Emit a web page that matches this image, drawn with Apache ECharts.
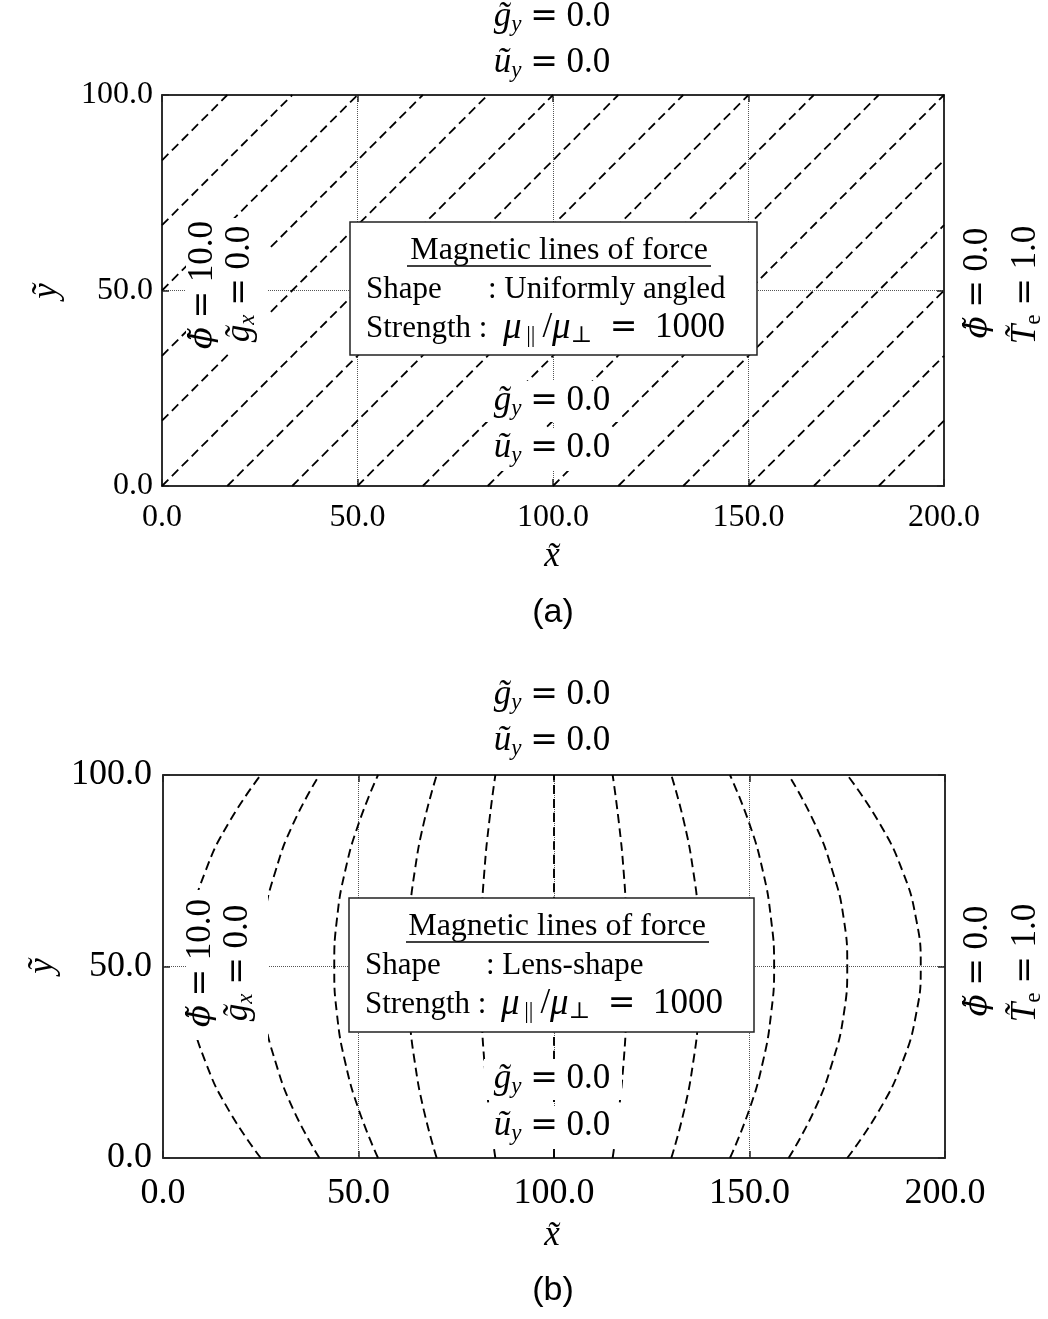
<!DOCTYPE html>
<html><head><meta charset="utf-8">
<script src="https://cdn.jsdelivr.net/npm/echarts@6/dist/echarts.min.js"></script>
<style>html,body{margin:0;padding:0;background:#fff}#c{width:1048px;height:1319px}</style>
</head><body><div id="c"></div>
<script>
// ---- data ----
const xTicks = [0, 50, 100, 150, 200];
const yTicks = [0, 50, 100];
// panel (a): uniformly angled lines, start (bottom/left edge) and end (top/right edge)
const angledStart = [[0,83.3],[0,66.7],[0,50],[0,33.3],[0,16.7],[0,0],[16.7,0],[33.3,0],[50,0],[66.7,0],[83.3,0],[100,0],[116.7,0],[133.3,0],[150,0],[166.7,0],[183.3,0]];
const angledEnd   = [[16.7,100],[33.3,100],[50,100],[66.7,100],[83.3,100],[100,100],[116.7,100],[133.3,100],[150,100],[166.7,100],[183.3,100],[200,100],[200,83.3],[200,66.7],[200,50],[200,33.3],[200,16.7]];
// panel (b): lens-shaped lines, x read at fixed y levels
const lensY = [0, 12.5, 25, 37.5, 50, 62.5, 75, 87.5, 100];
const lensX = [
  [25.0, 16.8, 10.9, 7.4, 6.3, 7.4, 10.9, 16.8, 25.0],
  [40.0, 33.4, 28.8, 25.9, 25.0, 25.9, 28.8, 33.4, 40.0],
  [55.0, 50.1, 46.6, 44.5, 43.8, 44.5, 46.6, 50.1, 55.0],
  [70.0, 66.7, 64.4, 63.0, 62.5, 63.0, 64.4, 66.7, 70.0],
  [85.0, 83.4, 82.2, 81.5, 81.3, 81.5, 82.2, 83.4, 85.0],
  [100, 100, 100, 100, 100, 100, 100, 100, 100],
  [115.0, 116.6, 117.8, 118.5, 118.8, 118.5, 117.8, 116.6, 115.0],
  [130.0, 133.3, 135.6, 137.0, 137.5, 137.0, 135.6, 133.3, 130.0],
  [145.0, 149.9, 153.4, 155.5, 156.3, 155.5, 153.4, 149.9, 145.0],
  [160.0, 166.6, 171.2, 174.1, 175.0, 174.1, 171.2, 166.6, 160.0],
  [175.0, 183.2, 189.1, 192.6, 193.8, 192.6, 189.1, 183.2, 175.0]
];
const shapeA = 'Uniformly angled';
const shapeB = 'Lens-shape';

// ---- chart ----
const chart = echarts.init(document.getElementById('c'));
const SERIF = 'Liberation Serif, DejaVu Serif, serif';
const grids = [
  {left: 162, top: 95, width: 782, height: 391},
  {left: 163, top: 775, width: 782, height: 383}
];
const tickFont = [32, 36];
const xAxes = [], yAxes = [];
grids.forEach((g, i) => {
  const common = {min: 0, interval: 50, gridIndex: i,
    axisLine: {show: true, onZero: false, lineStyle: {color: '#222', width: 1.5}},
    axisTick: {show: true, inside: true, length: 7, lineStyle: {color: '#222', width: 1.5}}};
  xAxes.push(Object.assign({}, common, {type: 'value', max: 200, position: 'bottom',
    axisLabel: {formatter: v => v.toFixed(1), fontFamily: SERIF, fontSize: tickFont[i], color: '#000', margin: i ? 18 : 16},
    splitLine: {show: true, lineStyle: {type: 'dotted', color: '#555', width: 1}}}));
  xAxes.push(Object.assign({}, common, {type: 'value', max: 200, position: 'top',
    axisLabel: {show: false}, splitLine: {show: false}}));
  yAxes.push(Object.assign({}, common, {type: 'value', max: 100, position: 'left',
    axisLabel: {formatter: v => v.toFixed(1), fontFamily: SERIF, fontSize: tickFont[i], color: '#000', margin: i ? 11 : 9},
    splitLine: {show: true, lineStyle: {type: 'dotted', color: '#555', width: 1}}}));
  yAxes.push(Object.assign({}, common, {type: 'value', max: 100, position: 'right',
    axisLabel: {show: false}, splitLine: {show: false}}));
});

const series = [];
angledStart.forEach((s, k) => {
  series.push({type: 'line', xAxisIndex: 0, yAxisIndex: 0, data: [s, angledEnd[k]],
    showSymbol: false, silent: true, animation: false,
    lineStyle: {color: '#000', width: 1.8, type: [9, 5]}, z: 3});
});
lensX.forEach(xs => {
  series.push({type: 'line', xAxisIndex: 2, yAxisIndex: 2, data: xs.map((x, j) => [x, lensY[j]]),
    showSymbol: false, silent: true, animation: false, smooth: 0.5,
    lineStyle: {color: '#000', width: 1.9, type: [9, 5]}, z: 3});
});

const FS = 35, SS = 23;
const rich = {
  i: {fontFamily: SERIF, fontStyle: 'italic', fontSize: FS, color: '#000'},
  m: {fontFamily: SERIF, fontStyle: 'italic', fontSize: FS + 2, color: '#000'},
  p: {fontFamily: 'DejaVu Serif', fontStyle: 'italic', fontSize: FS - 3, color: '#000'},
  r: {fontFamily: SERIF, fontSize: FS, color: '#000'},
  e: {fontFamily: 'DejaVu Serif', fontSize: FS - 2, color: '#000'},
  s: {fontFamily: SERIF, fontStyle: 'italic', fontSize: SS, color: '#000', padding: [15, 0, 0, 0]},
  su: {fontFamily: SERIF, fontSize: SS, color: '#000', padding: [15, 0, 0, 0]},
  t: {fontFamily: SERIF, fontSize: 31, color: '#000'},
  tt: {fontFamily: SERIF, fontSize: 32, color: '#000'}
};
function T(x, y, text, opt) {
  opt = opt || {};
  return {type: 'text', x: x, y: y, rotation: opt.rot || 0, z: 100, silent: true,
    style: {text: text, rich: rich, align: opt.align || 'center', verticalAlign: 'middle',
      fontFamily: SERIF, fontSize: 30, fill: '#000'}};
}
function R(x1, y1, x2, y2) {
  return {type: 'rect', z: 95, silent: true, shape: {x: x1, y: y1, width: x2 - x1, height: y2 - y1},
    style: {fill: '#fff', stroke: null}};
}
const EQ = '{r|\u2005}{e|=}{r|\u2005}';
const EQW = '{r|\u2002}{e|=}{r|\u2002}';
const gy = '{i|g\u0303}{s|y}' + EQ + '{r|0.0}';
const uy = '{i|u\u0303}{s|y}' + EQ + '{r|0.0}';
const phiL = '{p|\u03d5\u0303}' + EQ + '{r|10.0}';
const gx = '{i|g\u0303}{s|x}' + EQ + '{r|0.0}';
const phiR = '{p|\u03d5\u0303}' + EQ + '{r|0.0}';
const te = '{i|T\u0303}{su|e}' + EQ + '{r|1.0}';
const mu = '{m|\u03bc}{su|\u2009||}{r|\u2009/}{m|\u03bc}{su|\u22a5}' + EQW + '{r|1000}';

const graphics = [];
function panel(dy, boxTop, boxLeft, boxRight, boxBottom, shape, b) {
  graphics.push(T(552, 17 + dy, gy));
  graphics.push(T(552, 63 + dy, uy));
  // white backgrounds behind in-plot labels
  graphics.push(R(484, 381 + dy, 622, 422 + dy));
  graphics.push(R(484, 428 + dy, 622, 471 + dy));
  graphics.push(T(552, 401 + dy, gy));
  graphics.push(T(552, 448 + dy, uy));
  graphics.push(R(186, (b ? 890 - 678 : 218) + dy, 268, (b ? 1040 - 678 : 352) + dy));
  graphics.push(T(b ? 201 : 203, 285 + dy, phiL, {rot: Math.PI / 2}));
  graphics.push(T(b ? 238 : 240, (b ? 285 : 284) + dy, gx, {rot: Math.PI / 2}));
  graphics.push(T(978, 283 + dy, phiR, {rot: Math.PI / 2}));
  graphics.push(T(1026, 285 + dy, te, {rot: Math.PI / 2}));
  // legend box
  graphics.push({type: 'rect', z: 90, silent: true,
    shape: {x: boxLeft, y: boxTop, width: boxRight - boxLeft, height: boxBottom - boxTop},
    style: {fill: '#fff', stroke: '#222', lineWidth: 1.5}});
  const bt = boxTop - 222;
  graphics.push(T(b ? 557 : 559, 251 + bt, '{tt|Magnetic lines of force}'));
  graphics.push({type: 'line', z: 100, silent: true,
    shape: {x1: b ? 406 : 407, y1: 266 + bt, x2: b ? 709 : 711, y2: 266 + bt}, style: {stroke: '#000', lineWidth: 1.5}});
  graphics.push(T(b ? 365 : 366, 290 + bt, '{t|Shape}', {align: 'left'}));
  graphics.push(T(b ? 486 : 488, 290 + bt, '{t|: ' + shape + '}', {align: 'left'}));
  graphics.push(T(b ? 365 : 366, 329 + bt, '{t|Strength :}', {align: 'left'}));
  graphics.push(T(b ? 501 : 503, 328 + bt, mu, {align: 'left'}));
  // axis names
  graphics.push(T(b ? 43 : 47, (b ? 288 : 291) + dy, '{i|y\u0303}', {rot: Math.PI / 2}));
  graphics.push(T(552, (b ? 558 : 557) + dy, '{i|x\u0303}'));
}
panel(0, 222, 350, 757, 355, shapeA, false);
panel(678, 898, 349, 754, 1032, shapeB, true);
graphics.push({type: 'text', x: 553, y: 613, z: 100, silent: true,
  style: {text: '(a)', fontFamily: 'Liberation Sans, Arial, sans-serif', fontSize: 34, fill: '#000', align: 'center', verticalAlign: 'middle'}});
graphics.push({type: 'text', x: 553, y: 1291, z: 100, silent: true,
  style: {text: '(b)', fontFamily: 'Liberation Sans, Arial, sans-serif', fontSize: 34, fill: '#000', align: 'center', verticalAlign: 'middle'}});

chart.setOption({
  animation: false,
  backgroundColor: '#fff',
  grid: grids.map(g => Object.assign({show: true, borderColor: '#222', borderWidth: 1.5, backgroundColor: 'transparent'}, g)),
  xAxis: xAxes,
  yAxis: yAxes,
  series: series,
  graphic: {elements: graphics}
});
</script></body></html>
